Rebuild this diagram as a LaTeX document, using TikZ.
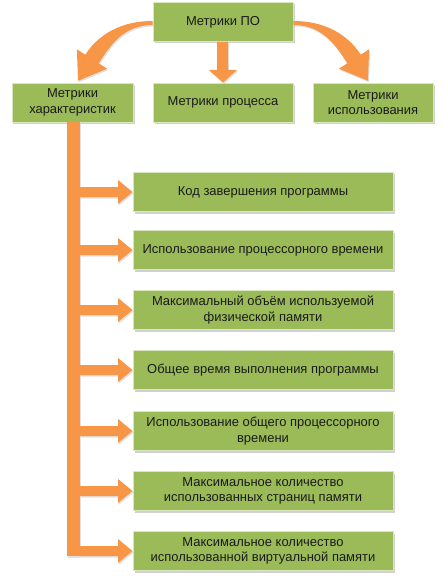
\documentclass[tikz,border=0pt]{standalone}
\usepackage{fontspec}
\setmainfont{Liberation Sans}
\usetikzlibrary{shadows}
\definecolor{boxgreen}{HTML}{9BBB59}
\definecolor{boxedge}{HTML}{D9E6C0}
\definecolor{arrorange}{HTML}{F79646}
\definecolor{txt}{HTML}{1A1A1A}
\begin{document}
\begin{tikzpicture}[x=1bp,y=-1bp,
  mbox/.style={rectangle, fill=boxgreen, draw=boxedge, line width=0.9bp,
    minimum height=39bp, inner sep=2bp, align=center, text=txt,
    font=\fontsize{13}{15.5}\selectfont,
    drop shadow={shadow xshift=1.5bp, shadow yshift=-2bp, opacity=0.3, fill=black!60}},
  arr/.style={fill=arrorange, draw=none,
    drop shadow={shadow xshift=1bp, shadow yshift=-1.5bp, opacity=0.2, fill=black!60}}]
\useasboundingbox (0,0) rectangle (443,588);

% top level
\node[mbox, minimum width=140bp] (top) at (223,22) {Метрики ПО};
\node[mbox, minimum width=121bp] (char) at (72.5,102.5) {Метрики\\характеристик};
\node[mbox, minimum width=140bp] (proc) at (223,102.5) {Метрики процесса};
\node[mbox, minimum width=120bp] (use) at (373,102.5) {Метрики\\использования};

% curved arrow left
\path[arr] (top.west |- 0,21) .. controls (122,21) and (98.8,33.7) .. (85.3,54.7)
  -- (76.9,49.3) -- (78,80.8) -- (107.1,68.7) -- (98.7,63.3)
  .. controls (110.6,44.8) and (124,25) .. (top.west |- 0,25) -- cycle;
% curved arrow right
\path[arr] (top.east |- 0,21) .. controls (324,21) and (347.2,33.7) .. (360.7,54.7)
  -- (369.1,49.3) -- (368,80.8) -- (338.9,68.7) -- (347.3,63.3)
  .. controls (335.4,44.8) and (322,25) .. (top.east |- 0,25) -- cycle;
% middle arrow
\path[arr] (top.south -| 217,0) -- (217,70) -- (209,70) -- (proc.north -| 223,0)
  -- (237,70) -- (228,70) -- (top.south -| 228,0) -- cycle;

% vertical bar
\path[arr] (char.south -| 67,0) rectangle (80,556);

% list boxes
\foreach \n/\y/\t in {
  b1/192/{Код завершения программы},
  b2/250/{Использование процессорного времени},
  b3/310/{Максимальный объём используемой\\физической памяти},
  b4/370/{Общее время выполнения программы},
  b5/431/{Использование общего процессорного\\времени},
  b6/491/{Максимальное количество\\использованных страниц памяти},
  b7/551/{Максимальное количество\\использованной виртуальной памяти}}{
  \node[mbox, minimum width=260bp] (\n) at (263,\y) {\t};
  \path[arr] (80,\y-5) -- (118,\y-5) -- (118,\y-12) -- (\n.west)
    -- (118,\y+12) -- (118,\y+5) -- (80,\y+5) -- cycle;
}
% redraw bar on top of shadows
\path[fill=arrorange] (char.south -| 67,0) rectangle (80,556);
\end{tikzpicture}
\end{document}
